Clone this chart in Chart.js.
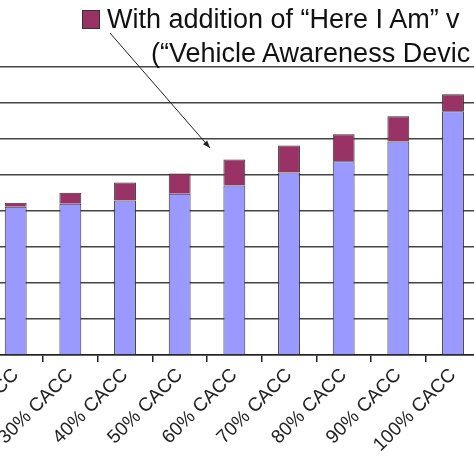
<!DOCTYPE html>
<html>
<head>
<meta charset="utf-8">
<script src="https://cdn.jsdelivr.net/npm/chart.js@4"></script>
<style>
  html, body { margin: 0; padding: 0; width: 474px; height: 474px; overflow: hidden; background: #fff; }
  #wrap { position: absolute; left: -55px; top: 0; width: 590px; height: 474px; }
  .leg { position: absolute; font-family: "Liberation Sans", Arial, sans-serif; font-size: 27px; color: #111; white-space: nowrap; }
  #sq { position: absolute; left: 82px; top: 10px; width: 16px; height: 17px; background: #993366; border: 1px solid #333; }
</style>
</head>
<body>
<div id="wrap"><canvas id="c"></canvas></div>
<div id="sq"></div>
<div class="leg" style="left:107px; top:4px;">With addition of “Here I Am” v</div>
<div class="leg" style="left:151px; top:38px;">(“Vehicle Awareness Devic</div>
<script>
const CATEGORIES = ['20% CACC', '30% CACC', '40% CACC', '50% CACC', '60% CACC',
                    '70% CACC', '80% CACC', '90% CACC', '100% CACC', ''];
const BASE_VALUES  = [4.12, 4.20, 4.29, 4.48, 4.71, 5.07, 5.38, 5.93, 6.77, null];
const ADDED_VALUES = [0.11, 0.31, 0.50, 0.56, 0.72, 0.75, 0.75, 0.70, 0.47, null];
const Y_TICKS = [0, 1, 2, 3, 4, 5, 6, 7, 8];

// arrow from the legend text down to the 60% bar (canvas is offset by 55px)
const arrowPlugin = {
  id: 'arrow',
  afterDraw(chart) {
    const ctx = chart.ctx;
    const x0 = 165, y0 = 33, x1 = 265, y1 = 148;
    ctx.save();
    ctx.strokeStyle = '#222';
    ctx.fillStyle = '#222';
    ctx.lineWidth = 1;
    ctx.beginPath(); ctx.moveTo(x0, y0); ctx.lineTo(x1, y1); ctx.stroke();
    const a = Math.atan2(y1 - y0, x1 - x0);
    ctx.beginPath();
    ctx.moveTo(x1, y1);
    ctx.lineTo(x1 - 8 * Math.cos(a - 0.35), y1 - 8 * Math.sin(a - 0.35));
    ctx.lineTo(x1 - 8 * Math.cos(a + 0.35), y1 - 8 * Math.sin(a + 0.35));
    ctx.closePath(); ctx.fill();
    ctx.restore();
  }
};

new Chart(document.getElementById('c'), {
  type: 'bar',
  data: {
    labels: CATEGORIES,
    datasets: [
      { label: 'Base', data: BASE_VALUES, backgroundColor: '#9999ff', borderColor: '#333', borderWidth: 1 },
      { label: 'With addition of “Here I Am”', data: ADDED_VALUES, backgroundColor: '#993366', borderColor: '#333', borderWidth: 1 }
    ]
  },
  options: {
    responsive: true,
    maintainAspectRatio: false,
    animation: false,
    layout: { padding: { top: 67, left: 0, right: 0, bottom: 0 } },
    datasets: { bar: { barPercentage: 0.4, categoryPercentage: 1 } },
    plugins: { legend: { display: false }, tooltip: { enabled: false } },
    scales: {
      x: {
        stacked: true,
        afterFit(scale) { scale.height = 119; },
        grid: { drawOnChartArea: false, color: '#222', tickLength: 7, lineWidth: 1.5 },
        border: { color: '#222', width: 1.5 },
        ticks: {
          minRotation: 45, maxRotation: 45, color: '#222', padding: 2,
          font: { family: '"Liberation Sans", Arial, sans-serif', size: 19 }
        }
      },
      y: {
        stacked: true,
        display: true,
        min: 0, max: 8,
        afterBuildTicks(scale) { scale.ticks = Y_TICKS.map(v => ({ value: v })); },
        afterFit(scale) { scale.width = 0; },
        grid: { color: '#444', lineWidth: 1.5, drawTicks: false },
        border: { display: false },
        ticks: { display: false }
      }
    }
  },
  plugins: [arrowPlugin]
});
</script>
</body>
</html>
